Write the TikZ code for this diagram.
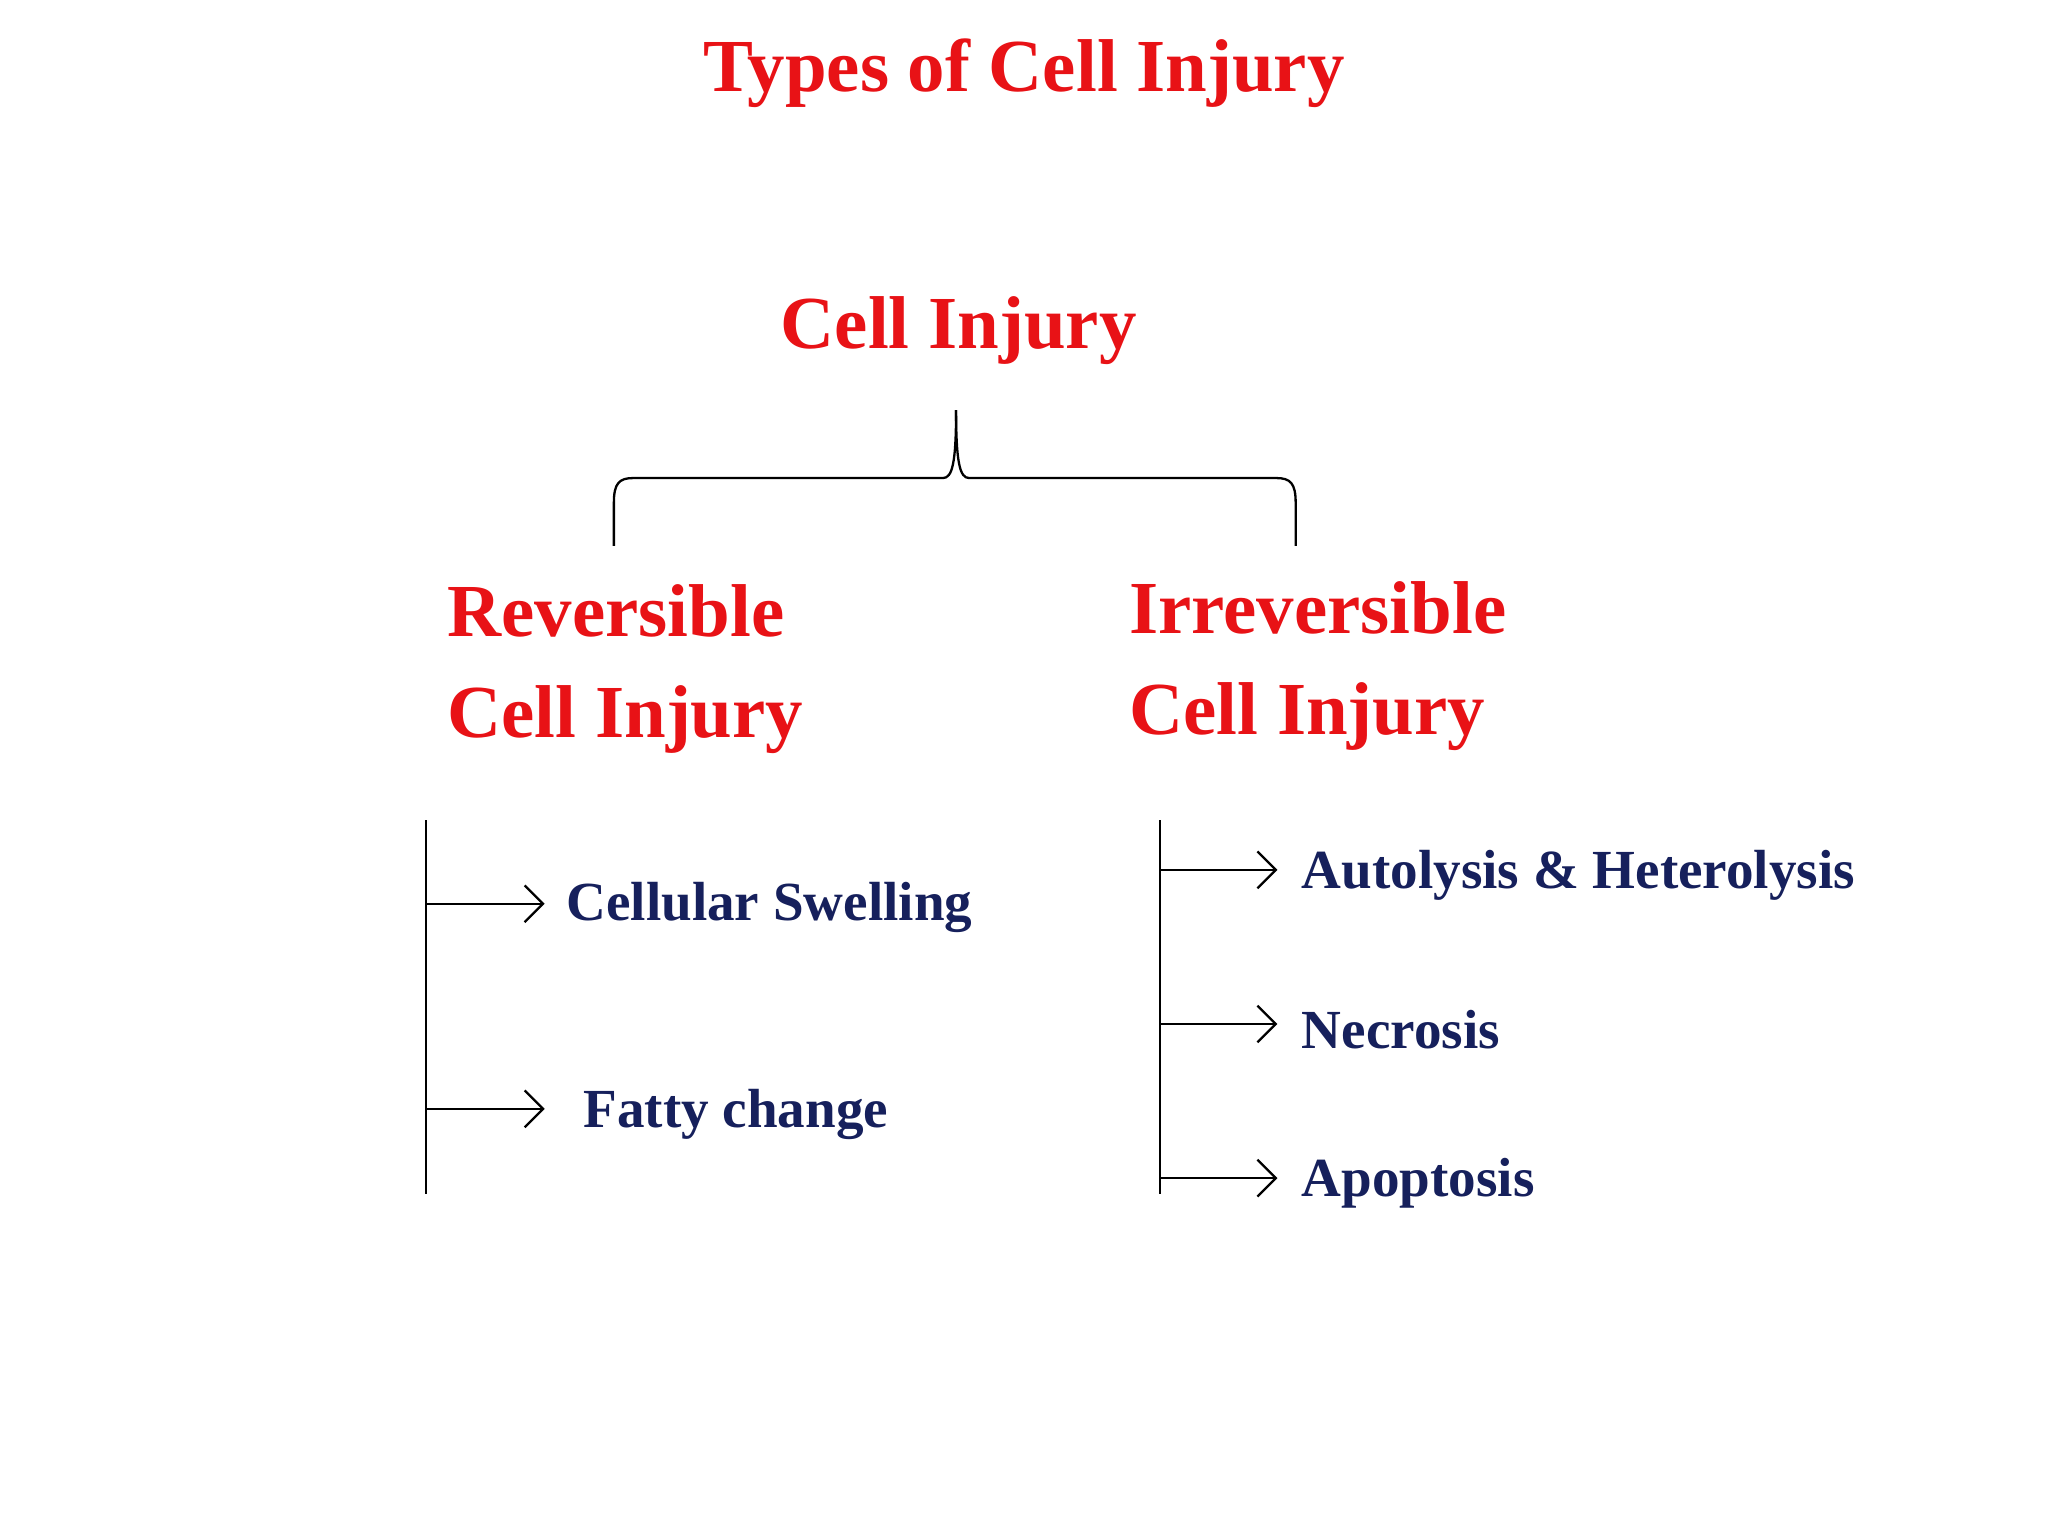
\documentclass[tikz,border=0pt]{standalone}
\usepackage{fontspec}
\usetikzlibrary{arrows.meta}
\setmainfont{Liberation Serif}
\definecolor{tred}{RGB}{232,18,22}
\definecolor{tblue}{RGB}{22,32,92}
\begin{document}
\begin{tikzpicture}[x=0.01cm,y=-0.01cm,
  head/.style={text=tred,font=\fontsize{16.3}{20}\selectfont\bfseries,inner sep=0pt},
  item/.style={text=tblue,font=\fontsize{12}{15}\selectfont\bfseries,inner sep=0pt,anchor=west},
  arr/.style={-{Straight Barb[length=4pt,width=8pt]},line width=0.5pt},
  ln/.style={line width=0.5pt}]
\useasboundingbox (0,0) rectangle (1568,1176);
\node[head] (title) at (784,56) {Types of Cell Injury};
\node[head] (ci) at (734,253) {Cell Injury};
\node[head,anchor=west,align=left] (rev) at (342,512) {Reversible\\[2pt]Cell Injury};
\node[head,anchor=west,align=left] (irr) at (864,510) {Irreversible\\[2pt]Cell Injury};
\coordinate (top) at (732,314);
\coordinate (bl) at (470,418);
\coordinate (br) at (992,418);
\draw[ln] (bl) -- (470,385) .. controls (470,370) and (474,366) .. (485,366) -- (722,366) .. controls (729,366) and (732,355) .. (top);
\draw[ln] (br) -- (992,385) .. controls (992,370) and (988,366) .. (977,366) -- (742,366) .. controls (735,366) and (732,355) .. (top);
\coordinate (l1) at (326,628); \coordinate (l2) at (326,914);
\coordinate (r1) at (888,628); \coordinate (r2) at (888,914);
\draw[ln] (l1) -- (l2);
\draw[ln] (r1) -- (r2);
\node[item] (cs) at (433,695) {Cellular Swelling};
\node[item] (fc) at (446,853) {Fatty change};
\node[item] (ah) at (996,670) {Autolysis \& Heterolysis};
\node[item] (ne) at (996,788) {Necrosis};
\node[item] (ap) at (996,906) {Apoptosis};
\coordinate (a1) at (326,692); \coordinate (a2) at (326,849);
\coordinate (b1) at (888,666); \coordinate (b2) at (888,784); \coordinate (b3) at (888,902);
\draw[arr] (a1) -- (417,692);
\draw[arr] (a2) -- (417,849);
\draw[arr] (b1) -- (978,666);
\draw[arr] (b2) -- (978,784);
\draw[arr] (b3) -- (978,902);
\end{tikzpicture}
\end{document}
